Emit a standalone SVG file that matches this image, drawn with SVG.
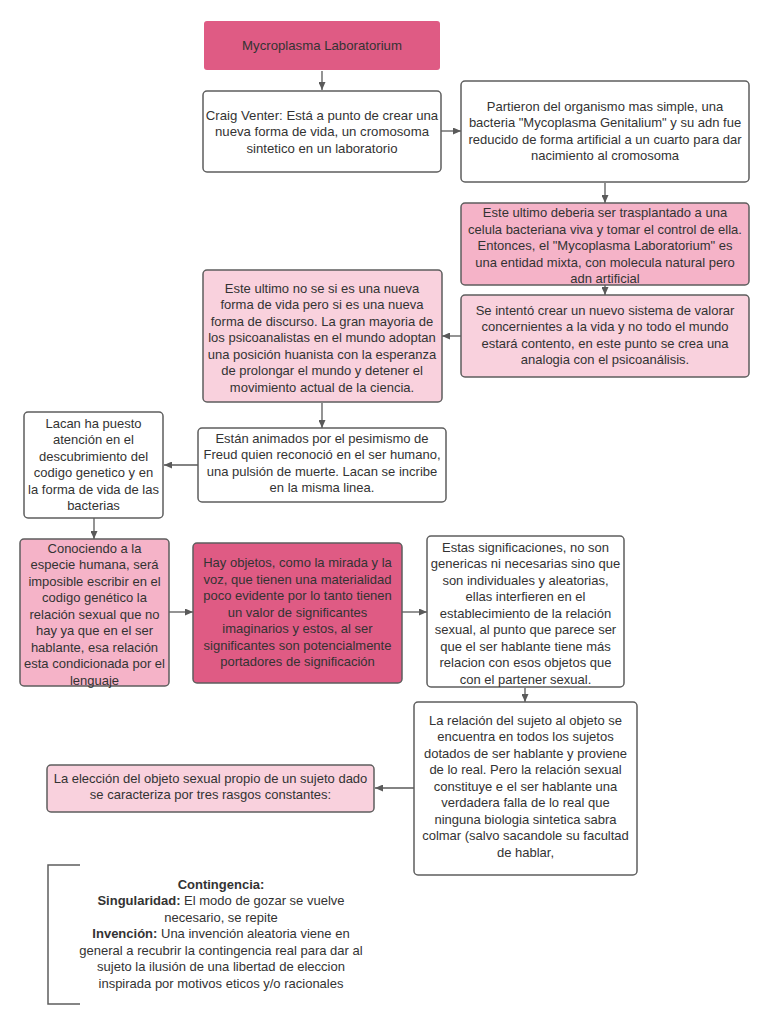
<svg xmlns="http://www.w3.org/2000/svg" width="768" height="1024" viewBox="0 0 768 1024">
<defs>
<marker id="ah" markerUnits="userSpaceOnUse" markerWidth="8" markerHeight="7" refX="8" refY="3.5" orient="auto"><path d="M0,0 L8,3.5 L0,7 z" fill="#5a5a5a"/></marker>
<style>
.box{stroke:#5e5e5e;stroke-width:1.5;}
.w{fill:#ffffff;}
.d{fill:#df5b84;}
.m{fill:#f5b3c8;}
.l{fill:#f9d1dd;}
text{font-family:"Liberation Sans",Arial,sans-serif;font-size:13px;fill:#333333;text-anchor:middle;}
.c line,.c path{stroke:#5a5a5a;stroke-width:1.3;fill:none;marker-end:url(#ah);}
.br{stroke:#5e5e5e;stroke-width:1.5;fill:none;}
</style>
</defs>
<rect width="768" height="1024" fill="#ffffff"/>

<g class="c" id="connectors">
<line x1="322" y1="71" x2="322" y2="90"/>
<line x1="441" y1="131" x2="461" y2="131"/>
<line x1="605" y1="183" x2="605" y2="203"/>
<line x1="605" y1="285" x2="605" y2="295"/>
<line x1="461" y1="336" x2="442" y2="336"/>
<line x1="322" y1="403" x2="322" y2="428"/>
<line x1="198" y1="465" x2="164" y2="465"/>
<line x1="94" y1="518" x2="94" y2="539"/>
<line x1="169" y1="612" x2="193" y2="612"/>
<line x1="402" y1="612" x2="427" y2="612"/>
<line x1="525" y1="688" x2="525" y2="702"/>
<line x1="414" y1="788" x2="375" y2="788"/>
</g>

<g id="n-title">
<rect x="204" y="21" width="236" height="49" rx="3" class="d"/>
<text x="322" y="49.5" style="font-size:13.2px">Mycroplasma Laboratorium</text>
</g>

<g id="n-craig">
<rect x="203" y="91" width="238" height="81" rx="4" class="box w"/>
<text style="font-size:13.2px"><tspan x="322" y="119.5">Craig Venter: Está a punto de crear una</tspan><tspan x="322" y="136">nueva forma de vida, un cromosoma</tspan><tspan x="322" y="152.5">sintetico en un laboratorio</tspan></text>
</g>

<g id="n-partieron">
<rect x="461" y="81" width="288" height="101" rx="4" class="box w"/>
<text><tspan x="605" y="110.5">Partieron del organismo mas simple, una</tspan><tspan x="605" y="127">bacteria "Mycoplasma Genitalium" y su adn fue</tspan><tspan x="605" y="143.5">reducido de forma artificial a un cuarto para dar</tspan><tspan x="605" y="160">nacimiento al cromosoma</tspan></text>
</g>

<g id="n-trasplantado">
<rect x="461" y="203" width="288" height="82" rx="4" class="box m"/>
<text><tspan x="605" y="217">Este ultimo deberia ser trasplantado a una</tspan><tspan x="605" y="233.5">celula bacteriana viva y tomar el control de ella.</tspan><tspan x="605" y="250">Entonces, el "Mycoplasma Laboratorium" es</tspan><tspan x="605" y="266.5">una entidad mixta, con molecula natural pero</tspan><tspan x="605" y="283">adn artificial</tspan></text>
</g>

<g id="n-intento">
<rect x="461" y="295" width="288" height="82" rx="4" class="box l"/>
<text><tspan x="605" y="314.5">Se intentó crear un nuevo sistema de valorar</tspan><tspan x="605" y="331">concernientes a la vida y no todo el mundo</tspan><tspan x="605" y="347.5">estará contento, en este punto se crea una</tspan><tspan x="605" y="364">analogia con el psicoanálisis.</tspan></text>
</g>

<g id="n-discurso">
<rect x="203" y="270" width="239" height="132" rx="4" class="box l"/>
<text><tspan x="322" y="292.5">Este ultimo no se si es una nueva</tspan><tspan x="322" y="309">forma de vida pero si es una nueva</tspan><tspan x="322" y="325.5">forma de discurso. La gran mayoria de</tspan><tspan x="322" y="342">los psicoanalistas en el mundo adoptan</tspan><tspan x="322" y="358.5">una posición huanista con la esperanza</tspan><tspan x="322" y="375">de prolongar el mundo y detener el</tspan><tspan x="322" y="391.5">movimiento actual de la ciencia.</tspan></text>
</g>

<g id="n-freud">
<rect x="198" y="428" width="248" height="74" rx="4" class="box w"/>
<text><tspan x="322" y="442.5">Están animados por el pesimismo de</tspan><tspan x="322" y="459">Freud quien reconoció en el ser humano,</tspan><tspan x="322" y="475.5">una pulsión de muerte. Lacan se incribe</tspan><tspan x="322" y="492">en la misma linea.</tspan></text>
</g>

<g id="n-lacan">
<rect x="24" y="412" width="139" height="106" rx="4" class="box w"/>
<text><tspan x="93.5" y="427.5">Lacan ha puesto</tspan><tspan x="93.5" y="444">atención en el</tspan><tspan x="93.5" y="460.5">descubrimiento del</tspan><tspan x="93.5" y="477">codigo genetico y en</tspan><tspan x="93.5" y="493.5">la forma de vida de las</tspan><tspan x="93.5" y="510">bacterias</tspan></text>
</g>

<g id="n-conociendo">
<rect x="20" y="539" width="149" height="147" rx="4" class="box m"/>
<text><tspan x="94.5" y="552.5">Conociendo a la</tspan><tspan x="94.5" y="569">especie humana, será</tspan><tspan x="94.5" y="585.5">imposible escribir en el</tspan><tspan x="94.5" y="602">codigo genético la</tspan><tspan x="94.5" y="618.5">relación sexual que no</tspan><tspan x="94.5" y="635">hay ya que en el ser</tspan><tspan x="94.5" y="651.5">hablante, esa relación</tspan><tspan x="94.5" y="668">esta condicionada por el</tspan><tspan x="94.5" y="684.5">lenguaje</tspan></text>
</g>

<g id="n-objetos">
<rect x="193" y="543" width="209" height="140" rx="4" class="box d"/>
<text><tspan x="297.5" y="567">Hay objetos, como la mirada y la</tspan><tspan x="297.5" y="583.5">voz, que tienen una materialidad</tspan><tspan x="297.5" y="600">poco evidente por lo tanto tienen</tspan><tspan x="297.5" y="616.5">un valor de significantes</tspan><tspan x="297.5" y="633">imaginarios y estos, al ser</tspan><tspan x="297.5" y="649.5">significantes son potencialmente</tspan><tspan x="297.5" y="666">portadores de significación</tspan></text>
</g>

<g id="n-significaciones">
<rect x="427" y="536" width="197" height="151" rx="4" class="box w"/>
<text><tspan x="525.5" y="551.5">Estas significaciones, no son</tspan><tspan x="525.5" y="568">genericas ni necesarias sino que</tspan><tspan x="525.5" y="584.5">son individuales y aleatorias,</tspan><tspan x="525.5" y="601">ellas interfieren en el</tspan><tspan x="525.5" y="617.5">establecimiento de la relación</tspan><tspan x="525.5" y="634">sexual, al punto que parece ser</tspan><tspan x="525.5" y="650.5">que el ser hablante tiene más</tspan><tspan x="525.5" y="667">relacion con esos objetos que</tspan><tspan x="525.5" y="683.5">con el partener sexual.</tspan></text>
</g>

<g id="n-relacion">
<rect x="414" y="702" width="223" height="173" rx="4" class="box w"/>
<text><tspan x="525.5" y="724.5">La relación del sujeto al objeto se</tspan><tspan x="525.5" y="741">encuentra en todos los sujetos</tspan><tspan x="525.5" y="757.5">dotados de ser hablante y proviene</tspan><tspan x="525.5" y="774">de lo real. Pero la relación sexual</tspan><tspan x="525.5" y="790.5">constituye e el ser hablante una</tspan><tspan x="525.5" y="807">verdadera falla de lo real que</tspan><tspan x="525.5" y="823.5">ninguna biologia sintetica sabra</tspan><tspan x="525.5" y="840">colmar (salvo sacandole su facultad</tspan><tspan x="525.5" y="856.5">de hablar,</tspan></text>
</g>

<g id="n-eleccion">
<rect x="47" y="765" width="327" height="47" rx="4" class="box l"/>
<text><tspan x="210.5" y="782.5">La elección del objeto sexual propio de un sujeto dado</tspan><tspan x="210.5" y="799">se caracteriza por tres rasgos constantes:</tspan></text>
</g>

<g id="n-rasgos">
<path class="br" d="M80,865 L48,865 L48,1004 L80,1004"/>
<text><tspan x="221" y="888.5" font-weight="bold">Contingencia:</tspan><tspan x="221" y="905"><tspan font-weight="bold">Singularidad:</tspan> El modo de gozar se vuelve</tspan><tspan x="221" y="921.5">necesario, se repite</tspan><tspan x="221" y="938"><tspan font-weight="bold">Invención:</tspan> Una invención aleatoria viene en</tspan><tspan x="221" y="954.5">general a recubrir la contingencia real para dar al</tspan><tspan x="221" y="971">sujeto la ilusión de una libertad de eleccion</tspan><tspan x="221" y="987.5">inspirada por motivos eticos y/o racionales</tspan></text>
</g>
</svg>
